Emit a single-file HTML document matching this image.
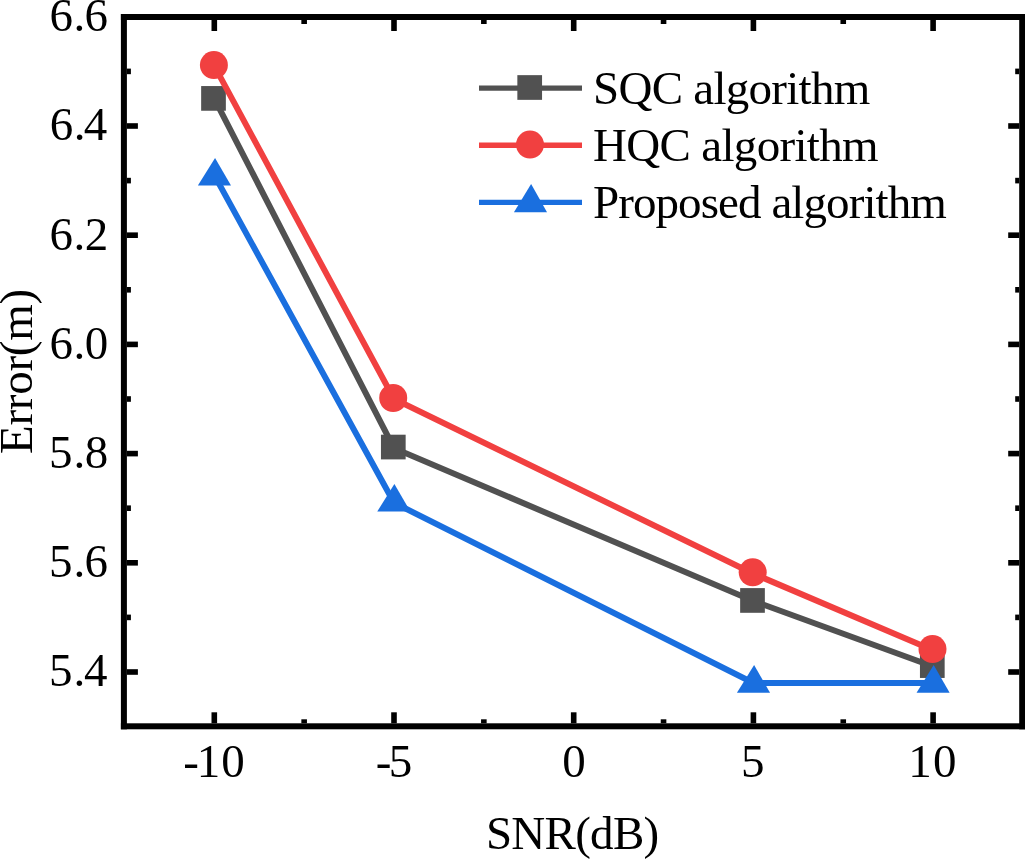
<!DOCTYPE html><html><head><meta charset="utf-8"><style>html,body{margin:0;padding:0;background:#fff;overflow:hidden}svg{display:block;will-change:transform}text{font-family:"Liberation Serif",serif;fill:#000}</style></head><body>
<svg width="1025" height="859" viewBox="0 0 1025 859">
<rect x="0" y="0" width="1025" height="859" fill="#fff"/>
<polyline points="214.30,98.70 394.00,448.14 753.40,601.02 933.10,666.54" fill="none" stroke="#515151" stroke-width="6" stroke-linejoin="miter"/>
<rect x="201.15" y="86.05" width="24.7" height="24.7" fill="#515151"/>
<rect x="380.95" y="434.70" width="24.7" height="24.7" fill="#515151"/>
<rect x="740.15" y="588.10" width="24.7" height="24.7" fill="#515151"/>
<rect x="919.95" y="653.25" width="24.7" height="24.7" fill="#515151"/>
<polyline points="214.30,65.94 394.00,399.00 753.40,573.72 933.10,650.16" fill="none" stroke="#F14040" stroke-width="6" stroke-linejoin="miter"/>
<circle cx="213.90" cy="65.05" r="14.0" fill="#F14040"/>
<circle cx="393.20" cy="398.00" r="14.0" fill="#F14040"/>
<circle cx="752.70" cy="572.30" r="14.0" fill="#F14040"/>
<circle cx="932.50" cy="649.10" r="14.0" fill="#F14040"/>
<polyline points="214.30,175.14 394.00,502.74 753.40,682.92 933.10,682.92" fill="none" stroke="#1A6FDF" stroke-width="6" stroke-linejoin="miter"/>
<polygon points="215.05,157.90 197.90,185.60 231.00,185.60" fill="#1A6FDF"/>
<polygon points="394.40,484.05 377.25,511.50 410.35,511.50" fill="#1A6FDF"/>
<polygon points="754.10,665.00 736.95,692.70 770.05,692.70" fill="#1A6FDF"/>
<polygon points="933.70,665.00 916.55,692.70 949.65,692.70" fill="#1A6FDF"/>
<line x1="479.0" y1="88.1" x2="582.0" y2="88.1" stroke="#515151" stroke-width="5.4"/>
<rect x="517.35" y="75.15" width="24.7" height="24.7" fill="#515151"/>
<text x="593" y="103.7" font-size="47" letter-spacing="-0.72">SQC algorithm</text>
<line x1="479.0" y1="145.2" x2="582.0" y2="145.2" stroke="#F14040" stroke-width="5.4"/>
<circle cx="530.00" cy="144.60" r="14.0" fill="#F14040"/>
<text x="593" y="160.8" font-size="47" letter-spacing="-0.68">HQC algorithm</text>
<line x1="479.0" y1="202.4" x2="582.0" y2="202.4" stroke="#1A6FDF" stroke-width="5.4"/>
<polygon points="531.10,184.00 513.95,212.20 547.05,212.20" fill="#1A6FDF"/>
<text x="593" y="217.9" font-size="47" letter-spacing="-0.92">Proposed algorithm</text>
<rect x="120.90" y="14.00" width="904.10" height="6.00" fill="#000"/>
<rect x="120.90" y="723.30" width="904.10" height="6.00" fill="#000"/>
<rect x="120.90" y="14.00" width="6.00" height="715.30" fill="#000"/>
<rect x="1019.20" y="14.00" width="5.80" height="715.30" fill="#000"/>
<rect x="211.50" y="712.30" width="5.60" height="11.00" fill="#000"/>
<rect x="211.50" y="20.00" width="5.60" height="11.00" fill="#000"/>
<rect x="391.20" y="712.30" width="5.60" height="11.00" fill="#000"/>
<rect x="391.20" y="20.00" width="5.60" height="11.00" fill="#000"/>
<rect x="570.90" y="712.30" width="5.60" height="11.00" fill="#000"/>
<rect x="570.90" y="20.00" width="5.60" height="11.00" fill="#000"/>
<rect x="750.60" y="712.30" width="5.60" height="11.00" fill="#000"/>
<rect x="750.60" y="20.00" width="5.60" height="11.00" fill="#000"/>
<rect x="930.30" y="712.30" width="5.60" height="11.00" fill="#000"/>
<rect x="930.30" y="20.00" width="5.60" height="11.00" fill="#000"/>
<rect x="301.35" y="719.30" width="5.60" height="4.00" fill="#000"/>
<rect x="301.35" y="20.00" width="5.60" height="4.00" fill="#000"/>
<rect x="481.05" y="719.30" width="5.60" height="4.00" fill="#000"/>
<rect x="481.05" y="20.00" width="5.60" height="4.00" fill="#000"/>
<rect x="660.75" y="719.30" width="5.60" height="4.00" fill="#000"/>
<rect x="660.75" y="20.00" width="5.60" height="4.00" fill="#000"/>
<rect x="840.45" y="719.30" width="5.60" height="4.00" fill="#000"/>
<rect x="840.45" y="20.00" width="5.60" height="4.00" fill="#000"/>
<rect x="126.90" y="123.20" width="11.00" height="5.60" fill="#000"/>
<rect x="1008.20" y="123.20" width="11.00" height="5.60" fill="#000"/>
<rect x="126.90" y="232.40" width="11.00" height="5.60" fill="#000"/>
<rect x="1008.20" y="232.40" width="11.00" height="5.60" fill="#000"/>
<rect x="126.90" y="341.60" width="11.00" height="5.60" fill="#000"/>
<rect x="1008.20" y="341.60" width="11.00" height="5.60" fill="#000"/>
<rect x="126.90" y="450.80" width="11.00" height="5.60" fill="#000"/>
<rect x="1008.20" y="450.80" width="11.00" height="5.60" fill="#000"/>
<rect x="126.90" y="560.00" width="11.00" height="5.60" fill="#000"/>
<rect x="1008.20" y="560.00" width="11.00" height="5.60" fill="#000"/>
<rect x="126.90" y="669.20" width="11.00" height="5.60" fill="#000"/>
<rect x="1008.20" y="669.20" width="11.00" height="5.60" fill="#000"/>
<rect x="126.90" y="68.60" width="4.00" height="5.60" fill="#000"/>
<rect x="1015.20" y="68.60" width="4.00" height="5.60" fill="#000"/>
<rect x="126.90" y="177.80" width="4.00" height="5.60" fill="#000"/>
<rect x="1015.20" y="177.80" width="4.00" height="5.60" fill="#000"/>
<rect x="126.90" y="287.00" width="4.00" height="5.60" fill="#000"/>
<rect x="1015.20" y="287.00" width="4.00" height="5.60" fill="#000"/>
<rect x="126.90" y="396.20" width="4.00" height="5.60" fill="#000"/>
<rect x="1015.20" y="396.20" width="4.00" height="5.60" fill="#000"/>
<rect x="126.90" y="505.40" width="4.00" height="5.60" fill="#000"/>
<rect x="1015.20" y="505.40" width="4.00" height="5.60" fill="#000"/>
<rect x="126.90" y="614.60" width="4.00" height="5.60" fill="#000"/>
<rect x="1015.20" y="614.60" width="4.00" height="5.60" fill="#000"/>
<text x="49.59 73.58 84.59" y="31.1" font-size="47">6.6</text>
<text x="49.74 73.67 83.86" y="140.3" font-size="47">6.4</text>
<text x="49.59 73.58 84.66" y="249.5" font-size="47">6.2</text>
<text x="49.59 73.58 84.65" y="358.7" font-size="47">6.0</text>
<text x="48.90 73.58 84.65" y="467.9" font-size="47">5.8</text>
<text x="48.90 73.58 84.54" y="577.1" font-size="47">5.6</text>
<text x="48.90 73.58 83.91" y="686.3" font-size="47">5.4</text>
<text x="183.35 196.65 221.20" y="776.6" font-size="47">-10</text>
<text x="375.85 388.80" y="776.6" font-size="47">-5</text>
<text x="562.35" y="776.6" font-size="47">0</text>
<text x="741.00" y="776.6" font-size="47">5</text>
<text x="908.35 932.90" y="776.6" font-size="47">10</text>
<text x="572.2" y="849.4" font-size="47" text-anchor="middle" letter-spacing="-0.73">SNR(dB)</text>
<text transform="translate(31.8,371.6) rotate(-90)" font-size="47" text-anchor="middle" letter-spacing="-0.27">Error(m)</text>
</svg></body></html>
